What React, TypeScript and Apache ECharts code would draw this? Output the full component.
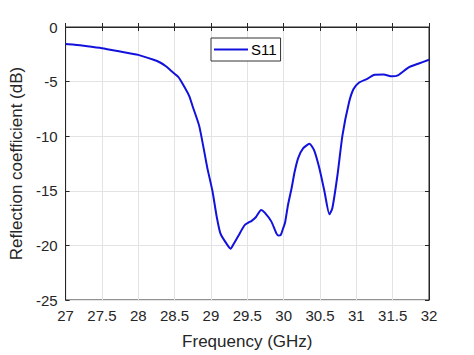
import React, { useEffect, useRef } from "react";
import * as echarts from "echarts";

const freqGHz = [
  27, 27.1, 27.25, 27.5, 27.75, 28, 28.2, 28.3, 28.38, 28.45, 28.55, 28.61, 28.7,
  28.75, 28.84, 28.95, 29.02, 29.08, 29.13, 29.2, 29.27, 29.31, 29.38, 29.43, 29.47,
  29.52, 29.56, 29.62, 29.69, 29.74, 29.83, 29.9, 29.93, 29.96, 29.99, 30.02, 30.06,
  30.11, 30.15, 30.2, 30.27, 30.355, 30.42, 30.49, 30.56, 30.63, 30.67, 30.74, 30.81,
  30.9, 30.96, 31.035, 31.15, 31.24, 31.375, 31.49, 31.58, 31.72, 31.85, 32,
];
const s11dB = [
  -1.56, -1.6, -1.72, -1.94, -2.24, -2.55, -2.98, -3.25, -3.6, -4.0, -4.57, -5.2, -6.3,
  -7.3, -9.1, -12.9, -15.0, -17.4, -18.9, -19.7, -20.3, -19.9, -19.1, -18.5, -18.1,
  -17.9, -17.75, -17.4, -16.75, -17.0, -17.8, -18.9, -19.1, -19.05, -18.5, -17.9, -16.3,
  -14.75, -13.3, -12.0, -11.1, -10.7, -11.3, -12.9, -15.0, -17.15, -16.6, -13.6, -9.9,
  -6.9, -5.7, -5.1, -4.75, -4.4, -4.36, -4.52, -4.4, -3.7, -3.37, -3.0,
];
const xTicks = [27, 32, 0.5];
const yTicks = [-25, 0, 5];

const FONT = "'Liberation Sans', Arial, Helvetica, sans-serif";
const AXIS_COLOR = "#262626";

export default function App() {
  const ref = useRef<HTMLDivElement>(null);
  useEffect(() => {
    if (!ref.current) return;
    const chart = echarts.init(ref.current, undefined, { renderer: "svg" });
    const data = freqGHz.map((f, i) => [f, s11dB[i]]);
    const axisCommon = {
      axisLine: { show: true, lineStyle: { color: AXIS_COLOR, width: 1 } },
      axisTick: { show: true, inside: true, length: 4, lineStyle: { color: AXIS_COLOR } },
    };
    chart.setOption({
      animation: false,
      backgroundColor: "#ffffff",
      textStyle: { fontFamily: FONT },
      grid: {
        left: 62,
        right: 45,
        top: 27,
        bottom: 51,
        show: true,
        borderColor: AXIS_COLOR,
        borderWidth: 1,
        backgroundColor: "transparent",
      },
      legend: {
        show: true,
        left: 211,
        top: 38,
        orient: "horizontal",
        icon: "rect",
        itemWidth: 34,
        itemHeight: 2,
        itemGap: 4,
        padding: [4, 4, 4, 3],
        borderColor: "#333",
        borderWidth: 1,
        backgroundColor: "#fff",
        textStyle: { fontFamily: FONT, fontSize: 15, color: "#000", padding: [0, 0, 0, -2] },
        data: ["S11"],
      },
      xAxis: [
        {
          type: "value",
          min: xTicks[0],
          max: xTicks[1],
          interval: xTicks[2],
          ...axisCommon,
          axisLabel: { color: AXIS_COLOR, fontSize: 15, fontFamily: FONT, margin: 8 },
          splitLine: { show: true, lineStyle: { color: "#e3e3e3", width: 1 } },
          name: "Frequency (GHz)",
          nameLocation: "middle",
          nameGap: 33,
          nameTextStyle: { color: AXIS_COLOR, fontSize: 17, fontFamily: FONT },
        },
        {
          type: "value",
          position: "top",
          min: xTicks[0],
          max: xTicks[1],
          interval: xTicks[2],
          ...axisCommon,
          axisLabel: { show: false },
          splitLine: { show: false },
        },
      ],
      yAxis: [
        {
          type: "value",
          min: yTicks[0],
          max: yTicks[1],
          interval: yTicks[2],
          ...axisCommon,
          axisLabel: { color: AXIS_COLOR, fontSize: 15, fontFamily: FONT, margin: 8 },
          splitLine: { show: true, lineStyle: { color: "#e3e3e3", width: 1 } },
          name: "Reflection coefficient (dB)",
          nameLocation: "middle",
          nameGap: 34,
          nameTextStyle: { color: AXIS_COLOR, fontSize: 17, fontFamily: FONT },
        },
        {
          type: "value",
          position: "right",
          min: yTicks[0],
          max: yTicks[1],
          interval: yTicks[2],
          ...axisCommon,
          axisLabel: { show: false },
          splitLine: { show: false },
        },
      ],
      series: [
        {
          name: "S11",
          type: "line",
          data,
          showSymbol: false,
          symbol: "none",
          smooth: 0.2,
          lineStyle: { color: "#1212dc", width: 2 },
          itemStyle: { color: "#1212dc" },
        },
      ],
    });
    return () => chart.dispose();
  }, []);
  return (
    <div
      ref={ref}
      style={{ position: "absolute", left: 0, top: 0, width: 474, height: 355 }}
    />
  );
}
